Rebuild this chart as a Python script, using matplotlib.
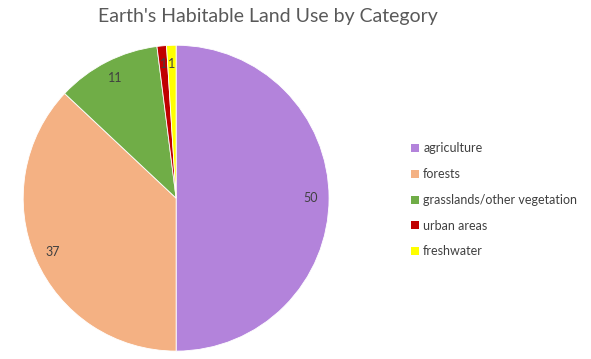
import matplotlib.pyplot as plt
from matplotlib.patches import Patch

plt.rcParams['font.family'] = ['Lato', 'DejaVu Sans']

categories = ["agriculture", "forests", "grasslands/other vegetation", "urban areas", "freshwater"]
values = [50, 37, 11, 1, 1]
colors = ["#B383DB", "#F4B183", "#70AD47", "#C00000", "#FFFF00"]

fig = plt.figure(figsize=(5.91, 3.59), dpi=100)
ax = fig.add_axes([0.298 - 0.259, 0.448 - 0.426, 0.518, 0.852])

total = sum(values)
wedges, texts, autotexts = ax.pie(
    values, colors=colors, startangle=90, counterclock=False,
    autopct=lambda p: f"{p * total / 100:.0f}", pctdistance=0.88,
    wedgeprops=dict(edgecolor="white", linewidth=0.6),
    textprops=dict(fontsize=9, color="#404040"),
)
ax.set_xlim(-1, 1)
ax.set_ylim(-1, 1)
ax.set_aspect("equal")

fig.text(0.453, 0.955, "Earth's Habitable Land Use by Category",
         ha="center", va="center", fontsize=14, color="#595959")

handles = [Patch(facecolor=c, edgecolor="none") for c in colors]
fig.legend(handles, categories, loc="center left", bbox_to_anchor=(0.677, 0.443),
           frameon=False, fontsize=9, labelcolor="#404040",
           handlelength=0.6, handleheight=0.6, handletextpad=0.35,
           labelspacing=1.1)

fig.savefig("out.png", dpi=100)
